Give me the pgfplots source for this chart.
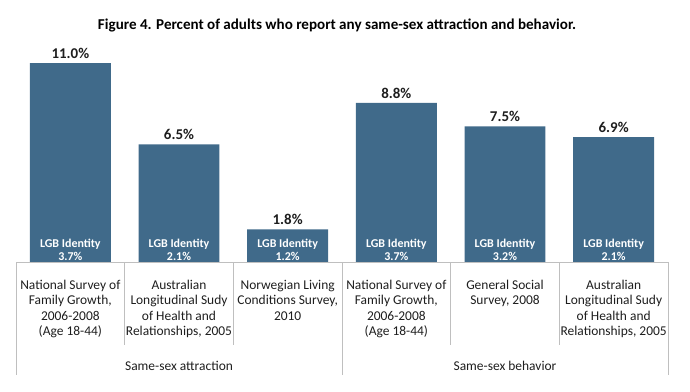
\documentclass[border=0pt]{standalone}
\usepackage{pgfplots}
\pgfplotsset{compat=1.18}
\usepackage{fontspec}
\setmainfont{Carlito}
\definecolor{barblue}{RGB}{64,106,138}
\definecolor{gridgray}{RGB}{191,191,191}
\definecolor{txt}{RGB}{30,30,30}
\begin{document}
\begin{tikzpicture}[x=1bp,y=1bp]
\useasboundingbox (-16,-129) rectangle (674,262);
\begin{axis}[
  at={(0,0)}, anchor=origin,
  scale only axis, width=652bp, height=199bp,
  xmin=0, xmax=6, ymin=0, ymax=11,
  axis lines=none,
  clip=false,
  /pgf/number format/assume math mode=true,
]
\addplot[ybar, bar width=0.745, bar shift=0pt, fill=barblue, draw=none,
  nodes near coords={\pgfmathprintnumber[fixed,fixed zerofill,precision=1]{\pgfplotspointmeta}\%},
  every node near coord/.append style={font=\bfseries\fontsize{15}{18}\selectfont, text=txt, anchor=south, yshift=1bp}]
  coordinates {(0.5,11.0) (1.5,6.5) (2.5,1.8) (3.5,8.8) (4.5,7.5) (5.5,6.9)};
\addplot[draw=none, mark=none, point meta=explicit symbolic,
  nodes near coords={LGB Identity\\\pgfplotspointmeta},
  every node near coord/.append style={font=\bfseries\fontsize{12}{13}\selectfont, text=white, align=center, anchor=south, yshift=0bp, inner sep=1.5bp}]
  coordinates {(0.5,0) [3.7\%] (1.5,0) [2.1\%] (2.5,0) [1.2\%] (3.5,0) [3.7\%] (4.5,0) [3.2\%] (5.5,0) [2.1\%]};
\end{axis}
% table lines
\draw[gridgray, line width=0.8bp] (0,0) -- (652,0);
\foreach \i in {0,3,6} \draw[gridgray, line width=0.8bp] ({\i*108.667},0) -- ({\i*108.667},-113);
\foreach \i in {1,2,4,5} \draw[gridgray, line width=0.8bp] ({\i*108.667},0) -- ({\i*108.667},-83);
\begin{scope}[every node/.style={font=\fontsize{13.5}{15.5}\selectfont, text=txt, align=center, anchor=north, inner sep=0pt}]
\node at ({0.5*108.667},-18) {National Survey of\\Family Growth,\\2006-2008\\(Age 18-44)};
\node at ({1.5*108.667},-18) {Australian\\Longitudinal Sudy\\of Health and\\Relationships, 2005};
\node at ({2.5*108.667},-18) {Norwegian Living\\Conditions Survey,\\2010};
\node at ({3.5*108.667},-18) {National Survey of\\Family Growth,\\2006-2008\\(Age 18-44)};
\node at ({4.5*108.667},-18) {General Social\\Survey, 2008};
\node at ({5.5*108.667},-18) {Australian\\Longitudinal Sudy\\of Health and\\Relationships, 2005};
\node[anchor=center] at (163,-104) {Same-sex attraction};
\node[anchor=center] at (489,-104) {Same-sex behavior};
\end{scope}
\node[inner sep=0pt, text=black] at (321,237) {\resizebox{478bp}{!}{\bfseries\fontsize{15}{18}\selectfont Figure 4. Percent of adults who report any same-sex attraction and behavior.}};
\end{tikzpicture}
\end{document}
